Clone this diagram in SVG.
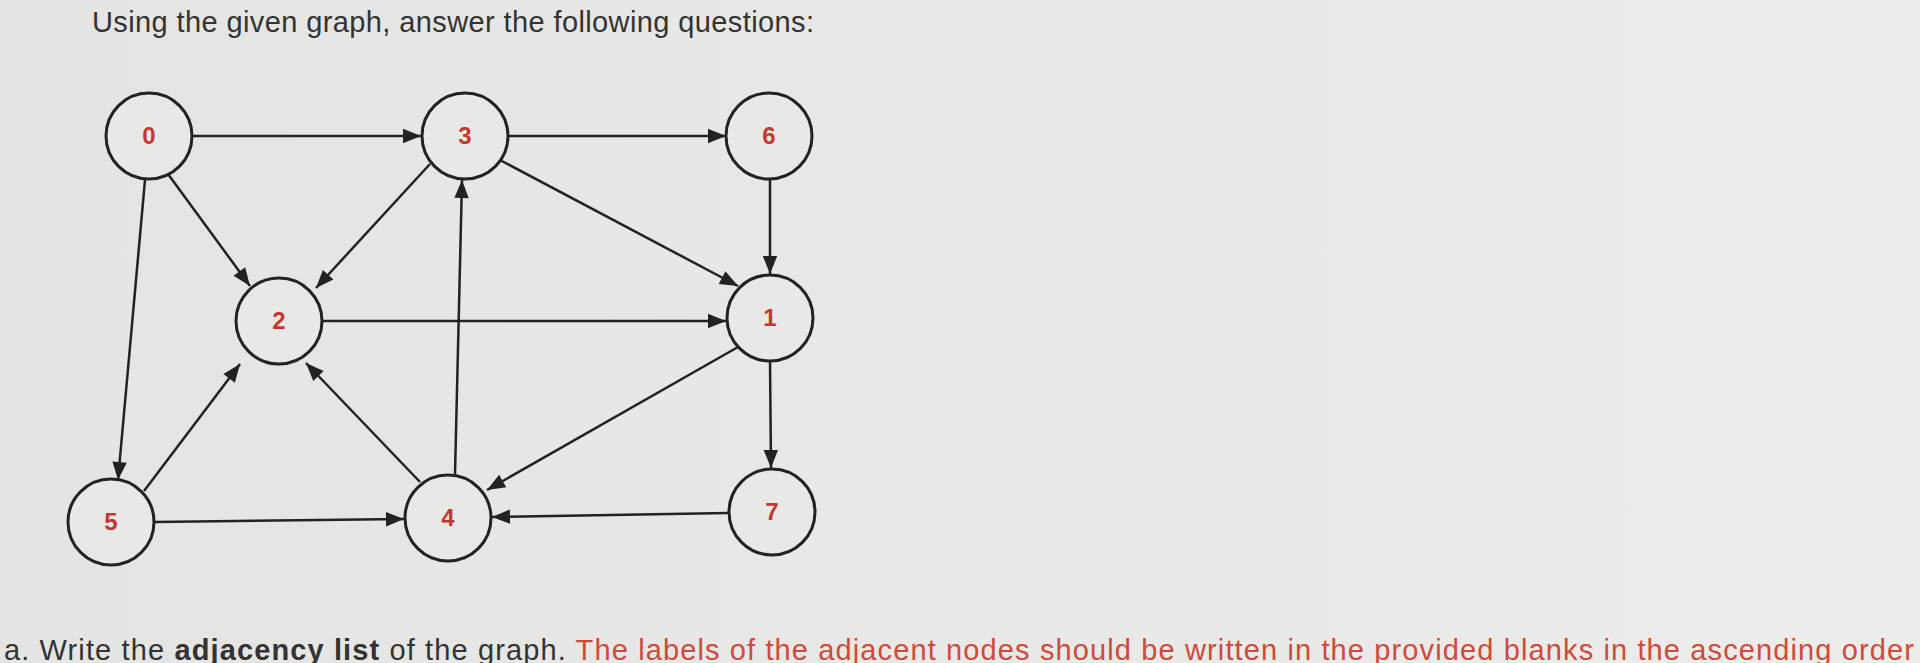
<svg xmlns="http://www.w3.org/2000/svg" width="1920" height="663" viewBox="0 0 1920 663">
<defs>
<style>
.n{fill:#e8e8e6;stroke:#222;stroke-width:3}
.l{fill:#c8372d;font-family:"Liberation Sans",Arial,sans-serif;font-weight:bold;font-size:24px;text-anchor:middle}
.e{stroke:#222;stroke-width:2.5;fill:none;marker-end:url(#a)}
.t{font-family:"Liberation Sans",Arial,sans-serif;font-size:29px;fill:#333}
</style>
<marker id="a" viewBox="0 0 10 10" refX="10" refY="5" markerWidth="22" markerHeight="18" markerUnits="userSpaceOnUse" orient="auto"><path d="M0,1 L10,5 L0,9 z" fill="#222"/></marker>
<linearGradient id="bg" x1="0" x2="1"><stop offset="0" stop-color="#e4e4e2"/><stop offset="1" stop-color="#ececea"/></linearGradient>
</defs>
<rect width="1920" height="663" fill="url(#bg)"/>
<text class="t" x="92" y="32" textLength="722">Using the given graph, answer the following questions:</text>
<g id="connectors">
<line class="e" x1="192" y1="136" x2="421" y2="136"/>
<line class="e" x1="508" y1="136" x2="726" y2="136"/>
<line class="e" x1="168" y1="174" x2="250" y2="286"/>
<line class="e" x1="145" y1="180" x2="118" y2="480"/>
<line class="e" x1="430" y1="164" x2="316" y2="288"/>
<line class="e" x1="500" y1="160" x2="738" y2="286"/>
<line class="e" x1="770" y1="179" x2="770" y2="274"/>
<line class="e" x1="323" y1="321" x2="726" y2="321"/>
<line class="e" x1="455" y1="474" x2="462" y2="180"/>
<line class="e" x1="738" y1="347" x2="487" y2="490"/>
<line class="e" x1="770" y1="361" x2="771" y2="468"/>
<line class="e" x1="144" y1="491" x2="240" y2="364"/>
<line class="e" x1="420" y1="482" x2="306" y2="363"/>
<line class="e" x1="155" y1="522" x2="404" y2="519"/>
<line class="e" x1="728" y1="513" x2="492" y2="517"/>
</g>
<g id="n0"><circle class="n" cx="149" cy="136" r="43"/><text class="l" x="149" y="144">0</text></g>
<g id="n3"><circle class="n" cx="465" cy="136" r="43"/><text class="l" x="465" y="144">3</text></g>
<g id="n6"><circle class="n" cx="769" cy="136" r="43"/><text class="l" x="769" y="144">6</text></g>
<g id="n2"><circle class="n" cx="279" cy="321" r="43"/><text class="l" x="279" y="329">2</text></g>
<g id="n1"><circle class="n" cx="770" cy="318" r="43"/><text class="l" x="770" y="326">1</text></g>
<g id="n5"><circle class="n" cx="111" cy="522" r="43"/><text class="l" x="111" y="530">5</text></g>
<g id="n4"><circle class="n" cx="448" cy="518" r="43"/><text class="l" x="448" y="526">4</text></g>
<g id="n7"><circle class="n" cx="772" cy="512" r="43"/><text class="l" x="772" y="520">7</text></g>
<text class="t" x="4" y="660" textLength="1910">a. Write the <tspan font-weight="bold">adjacency list</tspan> of the graph. <tspan fill="#d04a3c">The labels of the adjacent nodes should be written in the provided blanks in the ascending order</tspan></text>
</svg>
